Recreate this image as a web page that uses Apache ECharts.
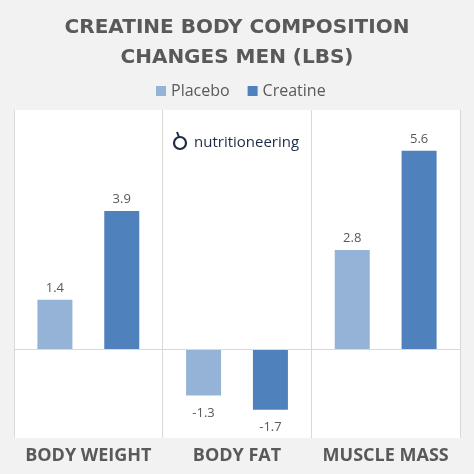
<!DOCTYPE html>
<html>
<head>
<meta charset="utf-8">
<script src="https://cdn.jsdelivr.net/npm/echarts@6/dist/echarts.min.js"></script>
<style>
  html, body { margin: 0; padding: 0; background: #f2f2f2; }
  #chart { width: 474px; height: 474px; }
</style>
</head>
<body>
<div id="chart"></div>
<script>
// values
const categories = ['BODY WEIGHT', 'BODY FAT', 'MUSCLE MASS']
const placebo = [1.4, -1.3, 2.8]
const creatine = [3.9, -1.7, 5.6]

const grey = '#595959'
const font = 'Open Sans'

// negative labels sit a bit further from the bar end
function withLabels(values) {
    return values.map(v => ({ value: v, label: { distance: v < 0 ? 11 : 5 } }))
}

let chart = echarts.init(document.getElementById('chart'))

let option = {
    backgroundColor: '#f2f2f2',
    animation: false,
    title: {
        text: 'CREATINE BODY COMPOSITION\nCHANGES MEN (LBS)',
        left: 'center',
        top: 8,
        textStyle: {
            fontFamily: 'DejaVu Sans',
            fontSize: 20,
            fontWeight: 'bold',
            color: grey,
            lineHeight: 30
        }
    },
    legend: {
        top: 78,
        left: 151,
        itemWidth: 10,
        itemHeight: 10,
        itemGap: 18,
        icon: 'rect',
        textStyle: { fontFamily: font, fontSize: 16, color: grey }
    },
    grid: {
        left: 14,
        right: 14,
        top: 110,
        bottom: 36,
        show: true,
        backgroundColor: '#ffffff',
        borderWidth: 0
    },
    xAxis: {
        type: 'category',
        data: categories,
        axisLine: { show: false },
        axisTick: { show: false },
        splitLine: { show: true, interval: 0, lineStyle: { color: '#d9d9d9', width: 1 } },
        axisLabel: {
            interval: 0,
            margin: 9,
            fontFamily: font,
            fontSize: 18,
            fontWeight: 'bold',
            color: grey
        }
    },
    yAxis: {
        type: 'value',
        min: -2.5,
        max: 6.75,
        show: false
    },
    series: [
        {
            name: 'Placebo',
            type: 'bar',
            data: withLabels(placebo),
            barWidth: 35,
            barGap: '91%',
            itemStyle: { color: '#95b3d7' },
            label: {
                show: true,
                position: 'outside',
                fontFamily: font,
                fontSize: 13,
                color: grey
            },
            markLine: {
                silent: true,
                symbol: 'none',
                label: { show: false },
                lineStyle: { color: '#d9d9d9', type: 'solid', width: 1 },
                data: [{ yAxis: 0 }]
            }
        },
        {
            name: 'Creatine',
            type: 'bar',
            data: withLabels(creatine),
            barWidth: 35,
            itemStyle: { color: '#4f81bd' },
            label: {
                show: true,
                position: 'outside',
                fontFamily: font,
                fontSize: 13,
                color: grey
            }
        }
    ],
    // nutritioneering logo
    graphic: [
        {
            type: 'circle',
            shape: { cx: 180, cy: 143, r: 6 },
            style: { fill: 'none', stroke: '#1e2b45', lineWidth: 2.2 }
        },
        {
            type: 'line',
            shape: { x1: 179, y1: 137, x2: 177, y2: 132 },
            style: { stroke: '#1e2b45', lineWidth: 2 }
        },
        {
            type: 'text',
            x: 194,
            y: 143,
            style: {
                text: 'nutritioneering',
                fontFamily: font,
                fontSize: 15,
                fill: '#1e2b45',
                verticalAlign: 'middle'
            }
        }
    ]
}

chart.setOption(option)
</script>
</body>
</html>
